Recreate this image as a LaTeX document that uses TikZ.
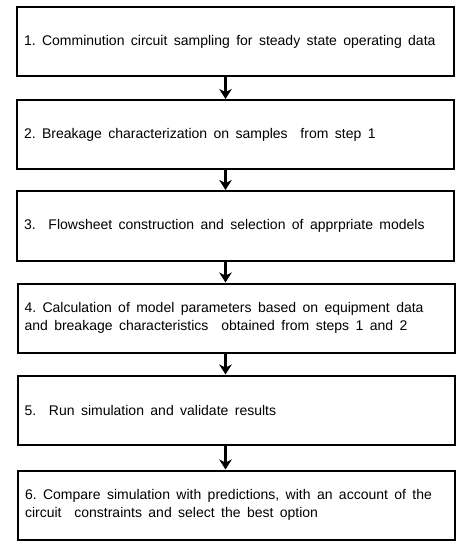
\documentclass[tikz,border=0pt]{standalone}
\usepackage{fontspec}
\setmainfont{Liberation Sans}
\usetikzlibrary{arrows.meta}
\newcommand{\widesp}{\spaceskip=6.4pt plus 1pt minus 1pt\xspaceskip=6.4pt plus 1pt minus 1pt\relax}
\begin{document}
\begin{tikzpicture}[x=1pt,y=-1pt,
  stepbox/.style={draw=black, line width=2pt, minimum width=437pt, minimum height=69pt,
    text width=423pt, inner xsep=7pt, align=left, font=\fontsize{14}{17.6}\selectfont, anchor=center},
  arr/.style={line width=2.8pt, -{Stealth[length=10pt,width=12.5pt,inset=3pt]}}]
\useasboundingbox (0,0) rectangle (474,549);
\node[stepbox] (b1) at (235.5,41.5) {\widesp 1.\ Comminution circuit sampling for steady state operating data};
\node[stepbox] (b2) at (235.5,134.5) {\widesp 2.\ Breakage characterization on samples\ \ from step 1};
\node[stepbox, minimum height=70pt] (b3) at (235.5,226) {\widesp 3.\ \ Flowsheet construction and selection of apprpriate models};
\node[stepbox] (b4) at (236,318) {\widesp 4. Calculation of model parameters based on equipment data\\and breakage characteristics\ \ obtained from steps 1 and 2};
\node[stepbox] (b5) at (236,410) {\widesp 5.\ \ Run simulation and validate results};
\node[stepbox] (b6) at (236.5,505) {\widesp 6. Compare simulation with predictions, with an account of the\\circuit\ \ constraints and select the best option};
\coordinate (ax) at (225.5,0);
\draw[arr] (b1.south -| ax) -- (b2.north -| ax);
\draw[arr] (b2.south -| ax) -- (b3.north -| ax);
\draw[arr] (b3.south -| ax) -- (b4.north -| ax);
\draw[arr] (b4.south -| ax) -- (b5.north -| ax);
\draw[arr] (b5.south -| ax) -- (b6.north -| ax);
\end{tikzpicture}
\end{document}
